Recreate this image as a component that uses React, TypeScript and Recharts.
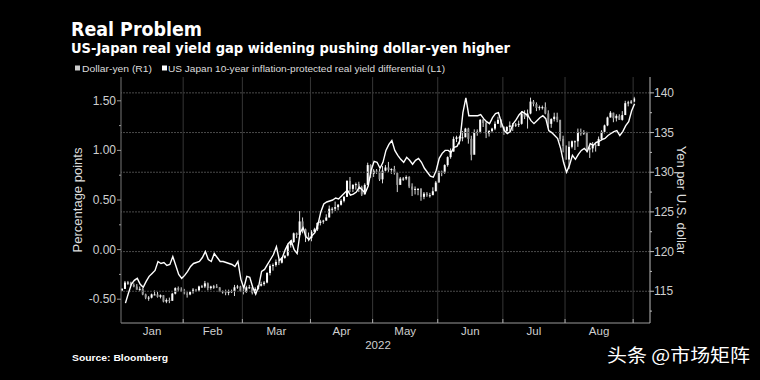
import React from 'react';
import { ComposedChart, Bar, Line, XAxis, YAxis, ReferenceLine } from 'recharts';

// trading days from Jan 3 2022 to Sep 1 2022, one entry per weekday
const yenClose = [
  115.3, 116.1, 116.1, 115.8, 115.6, 115.2, 115.3, 114.6, 114.2, 114.2, 114.6, 114.6, 114.3, 114.5, 113.7, 113.9, 113.8, 114.7, 115.4, 115.2, 115.1,
  114.7, 114.6, 114.9, 115.2, 115.1, 115.6, 115.6, 116.0, 115.4, 115.6, 115.6, 115.5, 114.9, 115.0, 114.8, 115.0, 115.0, 115.5, 115.6, 115.0,
  114.9, 115.5, 115.5, 114.8, 115.3, 115.7, 115.9, 116.1, 117.3, 118.2, 118.3, 118.7, 118.6, 119.2, 119.5, 120.8, 121.2, 122.3, 122.1, 123.8, 122.8, 121.9, 121.7,
  122.5, 122.8, 123.6, 123.8, 123.9, 124.3, 125.4, 125.4, 125.6, 125.9, 126.4, 126.9, 128.9, 127.9, 128.4, 128.5, 128.1, 127.2, 128.4, 130.9, 129.8,
  130.2, 130.1, 129.1, 130.2, 130.6, 130.3, 130.4, 129.9, 128.4, 129.2, 129.2, 129.4, 128.2, 127.8, 127.9, 127.9, 126.9, 127.3, 127.1, 127.1, 127.6, 128.7,
  130.1, 129.9, 130.9, 131.9, 132.6, 134.2, 134.4, 134.4, 134.4, 135.5, 134.2, 132.2, 135.0, 135.1, 136.6, 136.2, 134.9, 135.2, 135.5, 136.1, 136.6, 135.7,
  135.2, 135.7, 135.9, 135.9, 136.0, 136.1, 137.4, 137.0, 137.4, 138.9, 138.6, 138.1, 138.2, 138.2, 137.4, 136.1, 136.7, 137.0, 136.6, 134.2, 133.3,
  131.6, 133.2, 133.9, 133.9, 135.0, 134.9, 135.0, 132.9, 133.0, 133.4, 133.3, 134.2, 135.1, 135.9, 136.9, 137.5, 136.8, 137.1, 136.6, 137.2, 138.7, 138.8, 138.9,
  139.3,
];

const yenHigh = [
  115.4, 116.3, 116.3, 116.2, 116.0, 115.9, 115.6, 115.4, 114.7, 114.4, 114.7, 115.1, 114.9, 114.6, 114.5, 114.1, 114.2, 114.8, 115.5, 115.6, 115.5,
  115.3, 114.9, 115.0, 115.4, 115.3, 115.7, 115.8, 116.3, 116.1, 115.7, 115.8, 115.9, 115.5, 115.1, 115.2, 115.2, 115.2, 115.8, 115.8, 115.7,
  115.2, 115.7, 115.8, 115.5, 115.5, 115.8, 116.2, 116.3, 117.4, 118.4, 118.5, 119.0, 119.0, 119.3, 119.5, 121.0, 121.4, 122.4, 122.4, 125.1, 124.3, 122.9, 122.4,
  122.7, 123.0, 123.7, 124.0, 124.0, 124.7, 125.8, 125.6, 126.3, 126.0, 126.6, 127.0, 129.0, 129.4, 128.5, 128.7, 128.8, 128.3, 128.6, 131.2, 131.0,
  130.4, 130.4, 130.4, 130.8, 130.9, 131.3, 130.5, 130.8, 130.0, 129.4, 129.4, 129.6, 129.5, 128.6, 128.2, 128.0, 128.0, 127.5, 127.5, 127.4, 128.1, 128.9,
  130.2, 130.2, 131.0, 132.0, 133.0, 134.5, 134.6, 134.6, 135.2, 135.6, 135.6, 134.6, 135.4, 135.4, 136.7, 136.7, 136.4, 135.3, 135.6, 136.4, 137.0, 136.7,
  135.8, 135.8, 136.4, 136.2, 136.2, 136.5, 137.7, 137.8, 137.9, 139.4, 139.1, 138.8, 138.4, 138.4, 138.8, 137.8, 136.8, 137.5, 137.5, 136.6, 134.6,
  133.4, 133.9, 134.0, 134.0, 135.5, 135.5, 135.3, 135.1, 133.4, 133.8, 133.6, 134.5, 135.3, 136.0, 137.0, 137.7, 137.5, 137.3, 137.3, 137.7, 139.0, 139.0, 139.1,
  139.5,
];

const yenLow = [
  115.0, 115.3, 115.8, 115.7, 115.5, 115.2, 115.0, 114.5, 114.0, 113.8, 114.1, 114.5, 114.2, 114.1, 113.6, 113.5, 113.5, 113.8, 114.6, 115.0, 114.9,
  114.6, 114.2, 114.5, 114.7, 114.9, 115.0, 115.5, 115.4, 115.1, 115.2, 115.3, 115.4, 114.9, 114.7, 114.5, 114.5, 114.8, 114.4, 115.3, 114.9,
  114.6, 114.8, 115.3, 114.6, 114.7, 115.2, 115.6, 115.7, 116.0, 117.0, 117.6, 118.1, 118.3, 118.5, 119.1, 119.4, 120.5, 121.1, 121.7, 122.0, 122.3, 121.2, 121.3,
  121.3, 122.4, 122.6, 123.3, 123.5, 123.9, 124.3, 124.8, 125.1, 125.2, 125.8, 126.2, 126.9, 127.5, 127.5, 127.8, 127.5, 127.0, 127.2, 128.4, 129.3,
  129.4, 129.8, 128.9, 128.6, 130.1, 130.0, 129.8, 129.7, 127.5, 128.5, 128.9, 129.0, 128.0, 127.0, 127.2, 127.1, 126.4, 126.6, 126.9, 126.8, 127.2, 127.6,
  128.7, 129.5, 129.8, 130.7, 131.7, 132.6, 133.8, 133.5, 133.9, 134.4, 133.6, 131.5, 132.4, 134.6, 134.9, 135.7, 134.3, 134.5, 135.0, 135.3, 136.2, 135.6,
  134.7, 135.0, 135.2, 135.2, 135.7, 135.7, 136.0, 136.7, 135.5, 137.3, 138.3, 137.7, 137.8, 137.9, 137.3, 135.6, 135.6, 136.4, 136.3, 133.9, 132.5,
  131.6, 130.4, 133.0, 132.8, 133.2, 134.6, 134.7, 132.5, 131.8, 132.5, 132.6, 133.3, 134.0, 134.9, 135.8, 136.9, 136.3, 136.4, 136.6, 136.5, 137.8, 138.3, 138.6,
  138.8,
];

const yenPrevClose = 115.1; // Dec 31 2021

const yieldGap = [
  null, -0.54, -0.44, -0.35, -0.31, -0.29, -0.35, -0.38, -0.32, -0.27, -0.24, -0.21, -0.12, -0.14, -0.13, -0.16, -0.15, -0.07, -0.16, -0.25, -0.29,
  -0.26, -0.22, -0.17, -0.14, -0.13, -0.12, -0.08, -0.02, -0.10, -0.12, -0.04, -0.08, -0.12, -0.12, -0.13, -0.14, -0.15, -0.17, -0.12, -0.30,
  -0.39, -0.27, -0.28, -0.38, -0.45, -0.37, -0.22, -0.20, -0.15, -0.10, -0.05, 0.03, -0.11, -0.08, 0.00, 0.06, 0.09, 0.00, -0.04, 0.17, 0.22, 0.13, 0.10,
  0.14, 0.17, 0.25, 0.38, 0.46, 0.48, 0.49, 0.50, 0.52, 0.51, 0.54, 0.57, 0.60, 0.55, 0.56, 0.58, 0.63, 0.60, 0.57, 0.64, 0.80,
  0.89, 0.88, 0.82, 0.88, 1.00, 1.06, 1.10, 1.00, 0.95, 0.91, 0.88, 0.93, 0.90, 0.86, 0.90, 0.92, 0.88, 0.82, 0.78, 0.74, 0.73, 0.80,
  0.92, 0.97, 1.00, 1.00, 0.98, 1.03, 1.04, 1.10, 1.38, 1.53, 1.35, 1.35, 1.35, 1.35, 1.36, 1.32, 1.29, 1.27, 1.33, 1.37, 1.38, 1.28,
  1.20, 1.17, 1.19, 1.27, 1.31, 1.36, 1.39, 1.37, 1.35, 1.30, 1.27, 1.30, 1.33, 1.35, 1.32, 1.20, 1.18, 1.15, 1.12, 1.02, 0.88,
  0.78, 0.85, 0.95, 0.91, 0.96, 1.00, 1.02, 0.99, 1.07, 1.05, 1.08, 1.09, 1.11, 1.12, 1.15, 1.17, 1.19, 1.20, 1.15, 1.19, 1.25, 1.29, 1.40,
  1.47,
];

const months = ['Jan', 'Feb', 'Mar', 'Apr', 'May', 'Jun', 'Jul', 'Aug'];
// trading-day index where each month starts (Jan 3 = 0)
const monthStart = [0, 21, 41, 64, 85, 107, 129, 150, 173];
const leftTicks = [-0.5, -0.25, 0, 0.25, 0.5, 0.75, 1, 1.25, 1.5];
const rightTicks = [112.5, 115, 117.5, 120, 122.5, 125, 127.5, 130, 132.5, 135, 137.5, 140];
const rightGrid = [115, 120, 125, 130, 135, 140];

const monthEdges = monthStart.map((s) => s - 0.5);
const monthMids = months.map((_, k) => (monthEdges[k] + monthEdges[k + 1]) / 2);

const rows = yenClose.map((c, i) => ({
  i,
  open: i === 0 ? yenPrevClose : yenClose[i - 1],
  close: c,
  high: yenHigh[i],
  low: yenLow[i],
  range: [yenLow[i], yenHigh[i]],
  gap: yieldGap[i],
}));

const FONT = '"Liberation Sans", Arial, sans-serif';
const HEAD = '"DejaVu Sans", "Liberation Sans", sans-serif';
const TICK = '#cfcfcf';

const Candle = (props: any) => {
  const { x, y, width, height, payload } = props;
  if (x == null || y == null) return null;
  const top = Math.min(y, y + height);
  const h = Math.abs(height);
  const { open, close, high, low } = payload;
  const span = high - low || 1;
  const py = (v: number) => top + ((high - v) / span) * h;
  const cx = x + width / 2;
  const bTop = py(Math.max(open, close));
  const bBot = py(Math.min(open, close));
  const up = close >= open;
  return (
    <g>
      <line x1={cx} x2={cx} y1={top} y2={top + h} stroke="#d8d8d8" strokeWidth={1} />
      <rect x={cx - 1} y={bTop} width={2} height={Math.max(1, bBot - bTop)} fill={up ? '#ffffff' : '#9a9a9a'} />
    </g>
  );
};

const LeftTick = ({ x, y, payload }: any) => {
  const v = payload.value;
  const major = Math.abs(v * 2 - Math.round(v * 2)) < 1e-6;
  return (
    <g>
      <line x1={x - (major ? 4 : 2)} x2={x} y1={y} y2={y} stroke="#999" />
      {major && (
        <text x={x - 5} y={y + 4} textAnchor="end" fill={TICK} fontSize={12} fontFamily={FONT}>
          {v.toFixed(2)}
        </text>
      )}
    </g>
  );
};

const RightTick = ({ x, y, payload }: any) => {
  const v = payload.value;
  const major = v % 5 === 0;
  return (
    <g>
      <line x1={x} x2={x + (major ? 4 : 2)} y1={y} y2={y} stroke="#bbb" />
      {major && (
        <text x={x + 4} y={y + 4} textAnchor="start" fill={TICK} fontSize={12} fontFamily={FONT}>
          {v}
        </text>
      )}
    </g>
  );
};

const BottomTick = ({ x, y, payload }: any) => {
  const v = payload.value;
  const k = monthMids.indexOf(v);
  if (k >= 0) {
    return (
      <text x={x} y={y + 12} textAnchor="middle" fill={TICK} fontSize={11.5} fontFamily={FONT}>
        {months[k]}
      </text>
    );
  }
  return <line x1={x} x2={x} y1={y - 4} y2={y} stroke="#aaa" />;
};

export default function App() {
  return (
    <div style={{ position: 'absolute', left: 0, top: 0, width: 760, height: 380, background: '#000', overflow: 'hidden' }}>
      <ComposedChart
        width={760}
        height={380}
        data={rows}
        margin={{ top: 77, right: 70, bottom: 27, left: 73 }}
      >
        <XAxis
          dataKey="i"
          type="number"
          domain={[-0.5, 178.2]}
          allowDataOverflow
          ticks={[...monthEdges.slice(1), ...monthMids].sort((a, b) => a - b)}
          tick={<BottomTick />}
          tickLine={false}
          tickSize={0}
          tickMargin={0}
          interval={0}
          height={30}
          axisLine={{ stroke: '#999' }}
        />
        <YAxis
          yAxisId="left"
          domain={[-0.74, 1.74]}
          allowDataOverflow
          ticks={leftTicks}
          interval={0}
          tick={<LeftTick />}
          tickLine={false}
          tickSize={0}
          tickMargin={0}
          width={48}
          axisLine={{ stroke: '#777' }}
        />
        <YAxis
          yAxisId="right"
          orientation="right"
          domain={[111, 142]}
          allowDataOverflow
          ticks={rightTicks}
          interval={0}
          tick={<RightTick />}
          tickLine={false}
          tickSize={0}
          tickMargin={0}
          width={40}
          axisLine={{ stroke: '#bbb' }}
        />
        {rightGrid.map((v) => (
          <ReferenceLine key={'h' + v} yAxisId="right" y={v} stroke="#4a4a4a" strokeDasharray="2 1" />
        ))}
        {monthEdges.slice(1).map((e) => (
          <ReferenceLine key={'v' + e} yAxisId="right" x={e} stroke="#363636" />
        ))}
        <Bar yAxisId="right" dataKey="range" barSize={2} shape={<Candle />} isAnimationActive={false} />
        <Line
          yAxisId="left"
          dataKey="gap"
          stroke="#ffffff"
          strokeWidth={1.4}
          dot={false}
          activeDot={false}
          isAnimationActive={false}
        />
      </ComposedChart>

      <svg width={760} height={380} style={{ position: 'absolute', left: 0, top: 0, pointerEvents: 'none' }}>
        <text x={71} y={36} fill="#fff" fontSize={19} fontWeight="bold" fontFamily={HEAD} textLength={131} lengthAdjust="spacingAndGlyphs">
          Real Problem
        </text>
        <text x={71} y={52.5} fill="#fff" fontSize={13.5} fontWeight="bold" fontFamily={HEAD} textLength={439} lengthAdjust="spacingAndGlyphs">
          US-Japan real yield gap widening pushing dollar-yen higher
        </text>
        <rect x={75} y={65.5} width={5} height={5} fill="#cccccc" />
        <text x={82} y={71.5} fill="#ddd" fontSize={9.5} fontFamily={FONT} textLength={70} lengthAdjust="spacingAndGlyphs">
          Dollar-yen (R1)
        </text>
        <rect x={162} y={65.5} width={5} height={5} fill="#ffffff" />
        <text x={168} y={71.5} fill="#ddd" fontSize={9.5} fontFamily={FONT} textLength={277} lengthAdjust="spacingAndGlyphs">
          US Japan 10-year inflation-protected real yield differential (L1)
        </text>
        <text
          x={0}
          y={0}
          transform="translate(82 200) rotate(-90)"
          textAnchor="middle"
          fill="#ddd"
          fontSize={13}
          fontFamily={FONT}
        >
          Percentage points
        </text>
        <text
          x={0}
          y={0}
          transform="translate(677 200) rotate(90)"
          textAnchor="middle"
          fill="#ddd"
          fontSize={13}
          fontFamily={FONT}
        >
          Yen per U.S. dollar
        </text>
        <text x={378} y={349} textAnchor="middle" fill={TICK} fontSize={11.5} fontFamily={FONT}>
          2022
        </text>
        <text x={72} y={361} fill="#fff" fontSize={9.5} fontWeight="bold" fontFamily={FONT} textLength={96} lengthAdjust="spacingAndGlyphs">
          Source: Bloomberg
        </text>
        <text x={607} y={362} fill="#fff" fontSize={18} fontFamily='"Noto Sans CJK SC", sans-serif' textLength={143} lengthAdjust="spacingAndGlyphs">
          头条 @市场矩阵
        </text>
      </svg>
    </div>
  );
}
